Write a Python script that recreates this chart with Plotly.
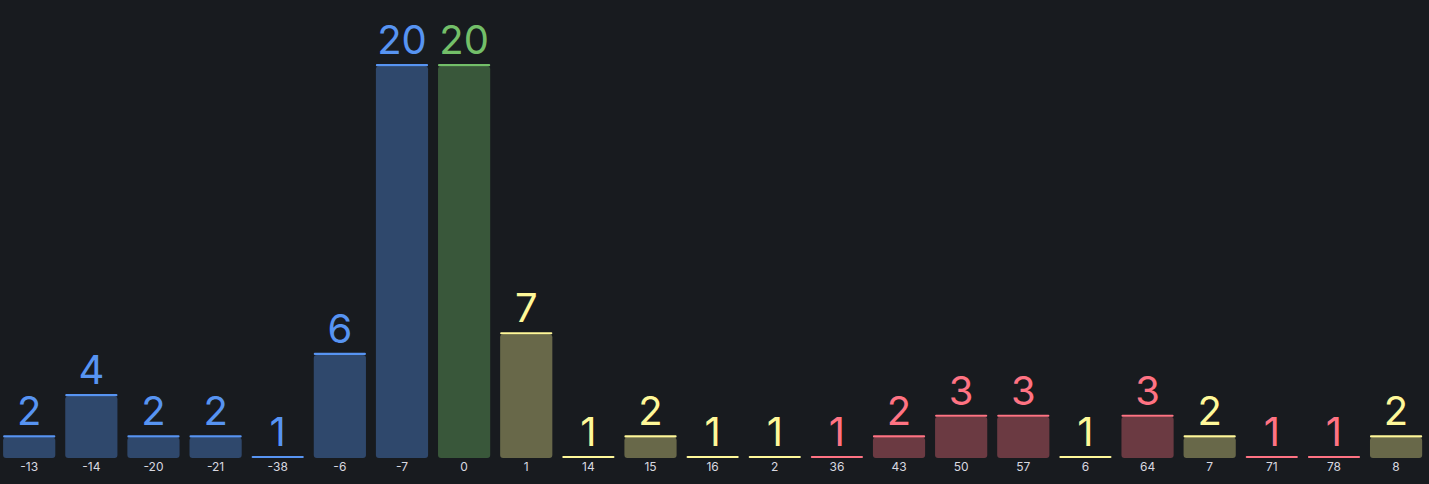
import plotly.graph_objects as go

# Valores
categorias = ["-13", "-14", "-20", "-21", "-38", "-6", "-7", "0", "1", "14", "15",
              "16", "2", "36", "43", "50", "57", "6", "64", "7", "71", "78", "8"]
conteos = [2, 4, 2, 2, 1, 6, 20, 20, 7, 1, 2, 1, 1, 1, 2, 3, 3, 1, 3, 2, 1, 1, 2]
grupos = ["neg", "neg", "neg", "neg", "neg", "neg", "neg", "cero", "bajo", "bajo", "bajo",
          "bajo", "bajo", "alto", "alto", "alto", "alto", "bajo", "alto", "bajo", "alto", "alto", "bajo"]

colores = {
    "neg": "#5794F2",
    "cero": "#73BF69",
    "bajo": "#FFF899",
    "alto": "#FF7383",
}
rellenos = {
    "neg": "rgba(87,148,242,0.37)",
    "cero": "rgba(115,191,105,0.37)",
    "bajo": "rgba(255,248,153,0.35)",
    "alto": "rgba(255,115,131,0.36)",
}

y_min, y_max = 1, 20.2
grosor = 0.1  # grosor de la línea superior en unidades del eje

fig = go.Figure()

# Relleno de las barras (el eje empieza en 1)
fig.add_trace(go.Bar(
    x=categorias,
    y=[c - y_min for c in conteos],
    base=y_min,
    marker=dict(color=[rellenos[g] for g in grupos], line=dict(width=0), cornerradius=3),
    hoverinfo='skip',
    showlegend=False
))

# Línea superior
fig.add_trace(go.Bar(
    x=categorias,
    y=[grosor] * len(conteos),
    base=conteos,
    marker=dict(color=[colores[g] for g in grupos], line=dict(width=0), cornerradius=1),
    hoverinfo='skip',
    showlegend=False
))

# Etiquetas con el valor
fig.add_trace(go.Scatter(
    x=categorias,
    y=[c + grosor for c in conteos],
    mode='text',
    text=[str(c) for c in conteos],
    textposition='top center',
    textfont=dict(family="Inter", size=40, color=[colores[g] for g in grupos]),
    cliponaxis=False,
    hovertemplate="%{x}: %{text}<extra></extra>",
    showlegend=False
))

fig.update_layout(
    width=1429,
    height=484,
    barmode='overlay',
    bargap=0.16,
    paper_bgcolor='#181b1f',
    plot_bgcolor='#181b1f',
    font=dict(family="Inter", color="#ccccdc"),
    margin=dict(l=0, r=0, t=62, b=26),
    xaxis=dict(
        type='category',
        range=[-0.47, len(categorias) - 0.47],
        showgrid=False, zeroline=False, showline=False, ticks='',
        tickfont=dict(size=12, color="#d8d9e0"),
    ),
    yaxis=dict(
        range=[y_min, y_max],
        visible=False,
    ),
)

fig.write_html("out.html", config={"displayModeBar": False},
               post_script="document.body.style.margin='0';")
